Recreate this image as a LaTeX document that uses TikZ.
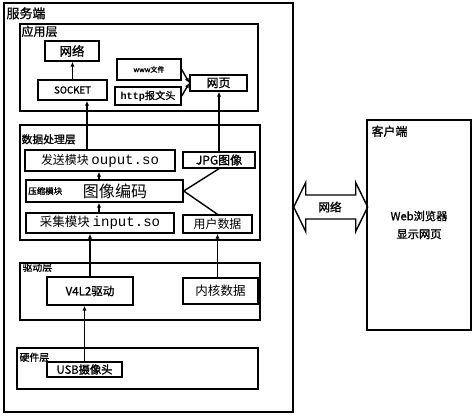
\documentclass[tikz,border=0pt]{standalone}
\usepackage{fontspec}
\setmainfont{Noto Sans CJK SC}[AutoFakeBold=1.2]
\newfontfamily\codefont{Liberation Mono}
\usetikzlibrary{arrows.meta}
\newcommand{\fsz}[1]{\fontsize{#1}{#1}\selectfont}
\tikzset{
  box/.style={draw, line width=1pt, inner sep=0pt},
  sz/.style 2 args={minimum width=#1*0.025cm, minimum height=#2*0.025cm},
  tag/.style={inner sep=0pt, anchor=west},
  flow/.style={line width=1pt, -{Latex[length=3.5pt,width=3pt]}},
  link/.style={line width=1pt}
}

\begin{document}
\begin{tikzpicture}[x=0.025cm, y=-0.025cm]
  \useasboundingbox (0,0) rectangle (474,417);
  % server side
  \node[box, sz={289}{409}] (server) at (148.5,207.5) {};
  \node[tag, font=\fsz{9.2}\bfseries] (servertag) at ([shift={(3,11)}]server.north west) {服务端};
  % application layer
  \node[box, sz={238}{87}] (app) at (139,67.5) {};
  \node[tag, font=\fsz{8.5}\bfseries] (apptag) at ([shift={(2,8)}]app.north west) {应用层};
  \node[box, sz={54}{20}, font=\fsz{8.9}\bfseries] (net) at (72,51) {网络};
  \node[box, sz={69}{20}, font=\fsz{6.9}\bfseries] (sock) at (72.5,90) {SOCKET};
  \node[box, sz={64}{21}, font=\fsz{5}\bfseries] (www) at (149,69.5) {www文件};
  \node[box, sz={66}{18}, font=\fsz{7.2}\bfseries] (http) at (148,96) {{\codefont http}报文头};
  \node[box, sz={57}{16}, font=\fsz{8.5}\bfseries] (web) at (218.5,83) {网页};
  % data processing layer
  \node[box, sz={240}{115}] (data) at (140,182.5) {};
  \node[tag, font=\fsz{7.7}\bfseries] (datatag) at ([shift={(2,15)}]data.north west) {数据处理层};
  \node[box, sz={150}{21}, font=\fsz{8.5}] (send) at (100,160.5) {发送模块 {\codefont\fsz{10}ouput.so}};
  \node[box, sz={72}{16}, font=\fsz{8.5}\bfseries] (jpg) at (219,160) {JPG图像};
  \node[box, sz={157}{22}] (comp) at (104.5,191) {};
  \node[tag, font=\fsz{6}\bfseries] (comptag) at ([xshift=2]comp.west) {压缩模块};
  \node[font=\fsz{11.4}] (enc) at (115,191) {图像编码};
  \node[box, sz={148}{20}, font=\fsz{8.9}] (cap) at (100,223) {采集模块 {\codefont\fsz{10}input.so}};
  \node[box, sz={69}{18}, font=\fsz{8.5}] (user) at (217.5,224) {用户数据};
  % driver layer
  \node[box, sz={240}{57}] (drv) at (140,291.5) {};
  \node[tag, font=\fsz{7}\bfseries] (drvtag) at ([shift={(3,5)}]drv.north west) {驱动层};
  \node[box, sz={86}{28}, font=\fsz{8.2}\bfseries] (v4l) at (90,291) {V4L2驱动};
  \node[box, sz={75}{26}, font=\fsz{8.9}] (kern) at (220.5,291) {内核数据};
  % hardware layer
  \node[box, sz={241}{41}] (hw) at (137.5,368.5) {};
  \node[tag, font=\fsz{7}\bfseries] (hwtag) at ([shift={(3,10)}]hw.north west) {硬件层};
  \node[box, sz={75}{15}, font=\fsz{8}\bfseries] (usb) at (84.5,369.5) {USB摄像头};
  % client side
  \node[box, sz={104}{210}, align=center, font=\fontsize{8}{12.8}\selectfont\bfseries] (client) at (419,225) {Web浏览器\\显示网页};
  \node[tag, font=\fsz{8.5}\bfseries] (clienttag) at ([shift={(5,12)}]client.north west) {客户端};
  % network arrow
  \coordinate (netL) at (server.east |- 0,207);
  \draw[link] (netL) -- ++(12,-24.5) -- ++(0,12.5) -- ++(50,0) -- ++(0,-12.5) -- ++(12,24.5)
    -- ++(-12,24.5) -- ++(0,-12.5) -- ++(-50,0) -- ++(0,12.5) -- cycle;
  \node[font=\fsz{8.3}\bfseries] (nettag) at (330,207) {网络};
  % connectors
  \coordinate (sendx) at (87,0);
  \coordinate (midx) at (99,0);
  \draw[flow] (sock.north) -- (net.south -| sock.north);
  \draw[flow] (send.north -| sendx) -- (sock.south -| sendx);
  \draw[flow] (www.east) -- (web.west);
  \draw[flow] (http.east) -- (web.west);
  \draw[flow] (jpg.north) -- (web.south -| jpg.north);
  \draw[link] (user.north) -- (comp.east) -- (jpg.south);
  \draw[flow] (comp.north -| midx) -- (send.south -| midx);
  \draw[flow] (cap.north -| midx) -- (comp.south -| midx);
  \draw[flow] (v4l.north) -- (cap.south -| v4l.north);
  \draw[flow] (kern.north -| user.south) -- (user.south);
  \draw[flow] (usb.north) -- (v4l.south -| usb.north);
\end{tikzpicture}
\end{document}
